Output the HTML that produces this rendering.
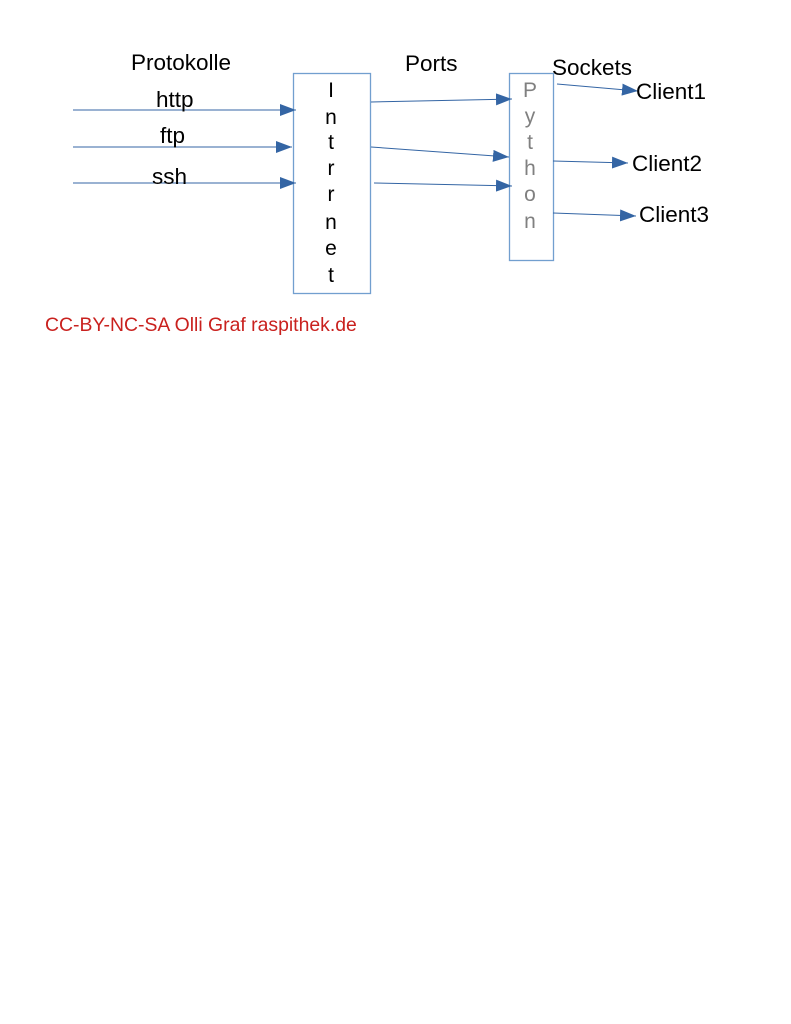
<!DOCTYPE html>
<html><head><meta charset="utf-8"><style>html,body{margin:0;padding:0;background:#fff}svg{display:block}</style></head>
<body>
<svg width="791" height="1024" viewBox="0 0 791 1024" xmlns="http://www.w3.org/2000/svg" font-family="Liberation Sans, sans-serif" font-size="22.5">
<defs>
<marker id="a" markerWidth="16" markerHeight="12" refX="16" refY="6" orient="auto" markerUnits="userSpaceOnUse">
<path d="M0,0 L16,6 L0,12 Z" fill="#3465a4"/>
</marker>
</defs>
<g stroke="#3465a4" stroke-width="1" fill="none">
<rect x="293.5" y="73.5" width="77" height="220" stroke="#729fcf" stroke-width="1.3"/>
<rect x="509.5" y="73.5" width="44" height="187" stroke="#729fcf" stroke-width="1.3"/>
<line x1="73" y1="110" x2="296" y2="110" marker-end="url(#a)"/>
<line x1="73" y1="147" x2="292" y2="147" marker-end="url(#a)"/>
<line x1="73" y1="183" x2="296" y2="183" marker-end="url(#a)"/>
<line x1="371" y1="102" x2="512" y2="99" marker-end="url(#a)"/>
<line x1="371" y1="147" x2="509" y2="157" marker-end="url(#a)"/>
<line x1="374" y1="183" x2="512" y2="186" marker-end="url(#a)"/>
<line x1="557" y1="84" x2="638" y2="91" marker-end="url(#a)"/>
<line x1="553" y1="161" x2="628" y2="163" marker-end="url(#a)"/>
<line x1="553" y1="213" x2="636" y2="216" marker-end="url(#a)"/>
</g>
<g fill="#000">
<text x="131" y="70">Protokolle</text>
<text x="156" y="107">http</text>
<text x="160" y="143">ftp</text>
<text x="152" y="184">ssh</text>
<text x="405" y="71">Ports</text>
<text x="552" y="75">Sockets</text>
<text x="636" y="99">Client1</text>
<text x="632" y="171">Client2</text>
<text x="639" y="222">Client3</text>
<g text-anchor="middle" font-size="21">
<text x="331" y="97">I</text>
<text x="331" y="124">n</text>
<text x="331" y="149">t</text>
<text x="331" y="175">r</text>
<text x="331" y="201">r</text>
<text x="331" y="229">n</text>
<text x="331" y="255">e</text>
<text x="331" y="282">t</text>
</g>
<g text-anchor="middle" fill="#808080" font-size="21">
<text x="530" y="97">P</text>
<text x="530" y="123">y</text>
<text x="530" y="149">t</text>
<text x="530" y="175">h</text>
<text x="530" y="201">o</text>
<text x="530" y="228">n</text>
</g>
<text x="45" y="331" fill="#c9211e" font-size="19.4">CC-BY-NC-SA Olli Graf raspithek.de</text>
</g>
</svg>
</body></html>
